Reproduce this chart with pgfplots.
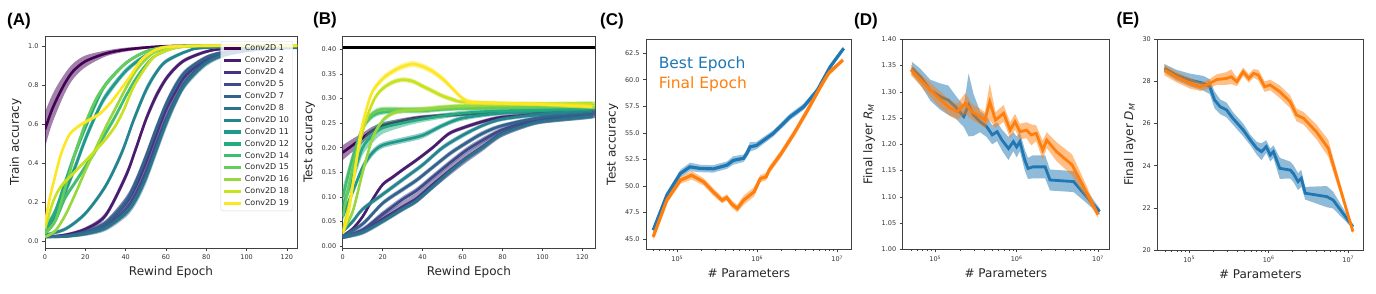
\documentclass[border=0pt]{standalone}
\usepackage{fontspec}
\setmainfont{DejaVu Sans}
\newfontfamily\panelfont{Liberation Sans}
\usepackage{pgfplots}
\pgfplotsset{compat=1.18}
\usepackage{pgfplotstable}

\definecolor{v1}{HTML}{440154}
\definecolor{v2}{HTML}{481C6E}
\definecolor{v4}{HTML}{46327E}
\definecolor{v5}{HTML}{3E4A89}
\definecolor{v7}{HTML}{33628D}
\definecolor{v8}{HTML}{2C738E}
\definecolor{v10}{HTML}{25858E}
\definecolor{v11}{HTML}{1F998A}
\definecolor{v12}{HTML}{25AB82}
\definecolor{v14}{HTML}{40BD72}
\definecolor{v15}{HTML}{67CC5C}
\definecolor{v16}{HTML}{98D83E}
\definecolor{v18}{HTML}{CAE11F}
\definecolor{v19}{HTML}{FDE725}
\definecolor{cblue}{HTML}{1F77B4}
\definecolor{corange}{HTML}{FF7F0E}

% ---------------- Panel A: train accuracy ----------------
\pgfplotstableread{
x y e
0 0.57 0.09
3 0.66 0.075
6 0.73 0.065
10 0.81 0.05
14 0.87 0.04
20 0.92 0.03
30 0.96 0.015
40 0.98 0.01
55 0.995 0.005
70 1.0 0.003
90 1.0 0.002
125 1.0 0.002
}\tAa
\pgfplotstableread{
x y e
0 0.02 0.005
10 0.03 0.008
20 0.06 0.01
30 0.13 0.015
40 0.33 0.02
45 0.47 0.02
50 0.62 0.02
55 0.74 0.02
60 0.83 0.015
65 0.89 0.012
70 0.93 0.01
80 0.97 0.008
90 0.985 0.005
125 1.0 0.003
}\tAb
\pgfplotstableread{
x y e
0 0.02 0.005
10 0.025 0.008
20 0.045 0.012
30 0.085 0.02
40 0.19 0.035
45 0.28 0.04
50 0.40 0.045
55 0.54 0.045
60 0.67 0.04
65 0.77 0.035
70 0.85 0.03
80 0.93 0.02
90 0.965 0.012
105 0.985 0.006
125 0.995 0.004
}\tAc
\pgfplotstableread{
x y e
0 0.02 0.005
10 0.023 0.008
20 0.04 0.012
30 0.075 0.02
40 0.16 0.03
45 0.24 0.035
50 0.35 0.035
55 0.49 0.035
60 0.62 0.03
65 0.73 0.03
70 0.82 0.025
80 0.92 0.015
90 0.96 0.01
105 0.985 0.006
125 0.995 0.004
}\tAd
\pgfplotstableread{
x y e
0 0.02 0.005
10 0.025 0.006
20 0.045 0.01
30 0.09 0.015
40 0.20 0.02
45 0.30 0.025
50 0.43 0.025
55 0.57 0.025
60 0.70 0.02
65 0.80 0.02
70 0.87 0.015
80 0.94 0.01
90 0.97 0.008
105 0.99 0.005
125 1.0 0.003
}\tAe
\pgfplotstableread{
x y e
0 0.02 0.005
10 0.022 0.006
20 0.035 0.01
30 0.065 0.015
40 0.14 0.02
45 0.21 0.025
50 0.32 0.03
55 0.46 0.03
60 0.60 0.03
65 0.72 0.025
70 0.81 0.02
80 0.91 0.015
90 0.955 0.01
105 0.98 0.006
125 0.99 0.004
}\tAf
\pgfplotstableread{
x y e
0 0.03 0.008
10 0.06 0.01
20 0.14 0.012
30 0.28 0.015
38 0.45 0.02
44 0.62 0.02
50 0.77 0.02
55 0.86 0.015
60 0.92 0.012
70 0.97 0.008
80 0.99 0.005
125 1.0 0.003
}\tAg
\pgfplotstableread{
x y e
0 0.05 0.02
5 0.12 0.02
10 0.25 0.025
15 0.38 0.025
20 0.52 0.025
25 0.64 0.02
30 0.74 0.02
40 0.87 0.015
50 0.95 0.01
60 0.985 0.005
75 1.0 0.003
125 1.0 0.002
}\tAh
\pgfplotstableread{
x y e
0 0.06 0.02
5 0.15 0.02
10 0.30 0.025
15 0.45 0.025
20 0.58 0.02
25 0.70 0.02
30 0.80 0.015
40 0.91 0.01
50 0.97 0.006
60 0.99 0.004
75 1.0 0.003
125 1.0 0.002
}\tAi
\pgfplotstableread{
x y e
0 0.04 0.01
5 0.10 0.012
10 0.22 0.015
15 0.30 0.015
20 0.38 0.015
25 0.46 0.015
30 0.55 0.015
35 0.64 0.015
40 0.74 0.012
45 0.83 0.01
50 0.90 0.008
55 0.95 0.006
65 0.99 0.004
80 1.0 0.003
125 1.0 0.002
}\tAj
\pgfplotstableread{
x y e
0 0.04 0.01
5 0.10 0.015
10 0.27 0.02
15 0.45 0.02
20 0.60 0.018
25 0.72 0.015
30 0.80 0.012
40 0.91 0.008
50 0.97 0.005
60 0.995 0.003
75 1.0 0.002
125 1.0 0.002
}\tAk
\pgfplotstableread{
x y e
0 0.02 0.005
5 0.05 0.008
10 0.13 0.01
15 0.24 0.012
20 0.36 0.012
25 0.47 0.012
30 0.58 0.012
35 0.68 0.01
40 0.78 0.01
45 0.87 0.008
50 0.93 0.006
55 0.97 0.004
65 0.995 0.003
80 1.0 0.002
125 1.0 0.002
}\tAl
\pgfplotstableread{
x y e
0 0.06 0.01
4 0.20 0.012
8 0.28 0.012
14 0.345 0.01
22 0.43 0.01
30 0.52 0.01
35 0.59 0.01
39 0.67 0.01
44 0.79 0.008
50 0.89 0.006
55 0.95 0.005
65 0.99 0.003
80 1.0 0.002
125 1.0 0.002
}\tAm
\pgfplotstableread{
x y e
0 0.09 0.02
2.5 0.225 0.02
5 0.33 0.018
7.5 0.43 0.015
10 0.50 0.012
12.5 0.55 0.01
17 0.59 0.01
22 0.62 0.01
27 0.65 0.01
31 0.69 0.01
35 0.74 0.01
42 0.84 0.008
48 0.93 0.006
55 0.98 0.004
62 0.995 0.003
80 1.0 0.002
125 1.0 0.002
}\tAn

% ---------------- Panel B: test accuracy ----------------
\pgfplotstableread{
x y e
0 0.19 0.015
5 0.205 0.013
10 0.22 0.01
15 0.235 0.008
20 0.245 0.006
30 0.255 0.005
40 0.262 0.004
60 0.268 0.004
80 0.272 0.004
125 0.275 0.004
}\tBa
\pgfplotstableread{
x y e
0 0.02 0.004
5 0.035 0.004
10 0.06 0.004
15 0.095 0.004
20 0.125 0.004
25 0.14 0.004
30 0.155 0.004
37 0.175 0.004
45 0.2 0.004
53 0.228 0.004
60 0.24 0.004
70 0.253 0.004
80 0.262 0.004
100 0.268 0.004
125 0.272 0.004
}\tBb
\pgfplotstableread{
x y e
0 0.018 0.004
10 0.03 0.006
20 0.055 0.008
30 0.08 0.009
37 0.097 0.01
45 0.125 0.01
54 0.155 0.01
62 0.18 0.01
70 0.202 0.009
79 0.228 0.008
90 0.245 0.007
100 0.255 0.006
125 0.265 0.005
}\tBc
\pgfplotstableread{
x y e
0 0.018 0.004
10 0.033 0.005
20 0.065 0.006
30 0.095 0.006
37 0.113 0.006
45 0.14 0.006
54 0.17 0.006
62 0.195 0.006
70 0.215 0.006
79 0.235 0.005
90 0.25 0.005
100 0.258 0.005
125 0.268 0.004
}\tBd
\pgfplotstableread{
x y e
0 0.02 0.004
10 0.045 0.005
20 0.087 0.005
30 0.115 0.005
37 0.134 0.005
45 0.16 0.005
54 0.189 0.005
62 0.21 0.005
70 0.229 0.005
80 0.245 0.004
100 0.262 0.004
125 0.27 0.004
}\tBe
\pgfplotstableread{
x y e
0 0.018 0.004
10 0.028 0.005
20 0.05 0.005
30 0.075 0.005
37 0.092 0.005
45 0.12 0.005
54 0.152 0.005
62 0.178 0.005
70 0.2 0.005
79 0.226 0.005
90 0.243 0.004
100 0.253 0.004
125 0.263 0.004
}\tBf
\pgfplotstableread{
x y e
0 0.03 0.005
5 0.05 0.005
10 0.075 0.005
20 0.105 0.005
30 0.135 0.005
40 0.165 0.005
50 0.2 0.005
60 0.225 0.005
70 0.245 0.004
80 0.258 0.004
100 0.268 0.004
125 0.275 0.004
}\tBg
\pgfplotstableread{
x y e
0 0.06 0.008
5 0.11 0.008
10 0.16 0.008
15 0.19 0.007
20 0.205 0.006
30 0.215 0.006
40 0.225 0.006
50 0.245 0.005
60 0.26 0.005
80 0.27 0.004
125 0.28 0.004
}\tBh
\pgfplotstableread{
x y e
0 0.08 0.01
5 0.14 0.015
10 0.2 0.015
15 0.225 0.015
20 0.24 0.012
30 0.25 0.008
40 0.258 0.006
60 0.27 0.005
80 0.275 0.004
125 0.28 0.004
}\tBi
\pgfplotstableread{
x y e
0 0.1 0.02
5 0.18 0.012
10 0.24 0.008
15 0.265 0.006
20 0.272 0.005
30 0.275 0.005
40 0.275 0.005
60 0.28 0.004
125 0.285 0.004
}\tBj
\pgfplotstableread{
x y e
0 0.06 0.01
5 0.16 0.008
10 0.24 0.006
15 0.27 0.005
20 0.278 0.005
30 0.278 0.005
40 0.278 0.005
60 0.28 0.004
125 0.285 0.004
}\tBk
\pgfplotstableread{
x y e
0 0.03 0.005
5 0.07 0.006
10 0.15 0.006
15 0.22 0.006
20 0.255 0.005
25 0.27 0.005
30 0.275 0.005
40 0.278 0.005
60 0.285 0.004
125 0.29 0.004
}\tBl
\pgfplotstableread{
x y e
0 0.03 0.004
4 0.1 0.005
8 0.2 0.005
12 0.26 0.005
16 0.3 0.005
20 0.32 0.005
25 0.333 0.005
30 0.338 0.005
35 0.335 0.005
40 0.325 0.005
45 0.315 0.005
50 0.305 0.005
55 0.298 0.005
60 0.293 0.004
80 0.29 0.004
125 0.288 0.004
}\tBm
\pgfplotstableread{
x y e
0 0.025 0.004
3 0.07 0.005
6 0.15 0.006
9 0.23 0.006
12 0.28 0.006
15 0.315 0.006
20 0.34 0.006
25 0.355 0.006
30 0.365 0.006
35 0.37 0.006
40 0.365 0.006
45 0.355 0.006
50 0.34 0.006
55 0.32 0.005
60 0.3 0.005
65 0.292 0.005
80 0.29 0.004
100 0.288 0.004
125 0.283 0.004
}\tBn

% ---------------- Panel C ----------------
\pgfplotstableread{
x y e
4.70 45.83 0.25
4.87 49.12 0.3
5.04 51.17 0.35
5.16 51.79 0.4
5.29 51.64 0.35
5.45 51.60 0.35
5.62 51.95 0.35
5.70 52.40 0.4
5.83 52.60 0.35
5.87 53.06 0.35
5.91 53.68 0.45
5.99 53.80 0.35
6.20 54.94 0.3
6.41 56.50 0.3
6.58 57.45 0.3
6.75 59.00 0.25
6.91 61.20 0.25
7.08 62.95 0.15
}\tCb
\pgfplotstableread{
x y e
4.70 45.20 0.25
4.87 48.65 0.3
5.04 50.54 0.35
5.18 51.00 0.4
5.33 50.38 0.35
5.45 49.44 0.35
5.56 48.65 0.3
5.62 48.90 0.3
5.68 48.30 0.35
5.75 47.87 0.35
5.83 48.65 0.45
5.96 49.44 0.45
6.04 50.70 0.35
6.11 50.85 0.35
6.15 51.50 0.35
6.30 53.06 0.35
6.46 54.94 0.35
6.63 57.14 0.35
6.79 59.33 0.3
6.89 60.60 0.3
7.07 61.85 0.15
}\tCo

% ---------------- Panel D ----------------
\pgfplotstableread{
x y e
4.714 1.345 0.012
4.816 1.329 0.015
4.94 1.303 0.02
5.06 1.291 0.025
5.16 1.284 0.028
5.245 1.272 0.022
5.35 1.253 0.02
5.41 1.275 0.06
5.47 1.256 0.04
5.55 1.243 0.02
5.63 1.234 0.02
5.70 1.218 0.018
5.76 1.224 0.018
5.82 1.208 0.02
5.90 1.192 0.022
5.96 1.205 0.018
6.00 1.195 0.02
6.04 1.205 0.018
6.10 1.170 0.02
6.14 1.154 0.02
6.20 1.157 0.022
6.35 1.157 0.022
6.41 1.132 0.02
6.70 1.129 0.02
6.86 1.100 0.012
7.02 1.072 0.006
}\tDb
\pgfplotstableread{
x y e
4.70 1.342 0.01
4.86 1.316 0.012
5.02 1.291 0.015
5.18 1.269 0.015
5.27 1.262 0.015
5.37 1.278 0.02
5.45 1.262 0.015
5.55 1.253 0.015
5.61 1.246 0.015
5.67 1.281 0.035
5.74 1.246 0.015
5.84 1.259 0.016
5.92 1.227 0.015
5.98 1.243 0.015
6.04 1.224 0.015
6.12 1.227 0.015
6.18 1.218 0.02
6.24 1.221 0.015
6.32 1.189 0.018
6.37 1.208 0.015
6.49 1.186 0.018
6.68 1.161 0.02
6.80 1.126 0.015
7.00 1.066 0.006
}\tDo

% ---------------- Panel E ----------------
\pgfplotstableread{
x y e
4.69 28.61 0.2
4.84 28.29 0.25
5.01 28.06 0.3
5.18 27.90 0.35
5.26 27.74 0.35
5.32 27.11 0.4
5.39 26.79 0.35
5.47 26.64 0.35
5.55 26.24 0.3
5.68 25.69 0.3
5.77 25.21 0.25
5.85 24.82 0.3
5.91 24.66 0.4
5.97 24.90 0.3
6.02 24.50 0.3
6.06 24.66 0.3
6.14 23.87 0.5
6.27 23.79 0.4
6.31 23.63 0.4
6.37 23.24 0.4
6.41 23.40 0.4
6.46 22.69 0.3
6.73 22.53 0.5
6.81 22.37 0.4
7.06 21.10 0.1
}\tEb
\pgfplotstableread{
x y e
4.69 28.53 0.25
4.84 28.20 0.25
5.01 27.90 0.25
5.14 27.74 0.2
5.22 27.82 0.2
5.35 28.08 0.25
5.47 28.13 0.3
5.53 28.21 0.35
5.60 27.97 0.2
5.68 28.45 0.2
5.75 28.13 0.2
5.81 28.37 0.2
5.87 28.29 0.25
5.95 27.74 0.25
6.02 27.82 0.25
6.14 27.50 0.3
6.27 27.03 0.3
6.35 26.40 0.3
6.44 26.24 0.3
6.60 25.60 0.35
6.75 24.82 0.4
7.06 20.87 0.1
}\tEo

% band (upper edge forward, lower edge backward) + line
% #1 table, #2 colour, #3 unused, #4 line width, #5 extra options, #6 opacity
\newcommand{\bl}[6]{%
\pgfplotstablesort[sort key=x, sort cmp=float <]\bandU{#1}%
\pgfplotstablesort[sort key=x, sort cmp=float >]\bandL{#1}%
\pgfplotstablecreatecol[expr={\thisrow{y}+\thisrow{e}}]{b}\bandU%
\pgfplotstablecreatecol[expr={\thisrow{y}-\thisrow{e}}]{b}\bandL%
\pgfplotstablevertcat{\bandU}{\bandL}%
\addplot[fill=#2, fill opacity=#6, draw=none, forget plot, #5] table[x=x, y=b] {\bandU};
\addplot[color=#2, line width=#4, #5] table[x=x, y=y] {#1};
}

\pgfplotsset{
  panel/.style={
    scale only axis, anchor=south west,
    axis line style={black!75, line width=0.6pt},
    tick align=outside, tick pos=left,
    tick style={black!75, line width=0.5pt},
    major tick length=3pt, minor tick length=1.8pt,
    ticklabel style={font=\fontsize{6.5}{7}\selectfont, text=black!80},
    label style={font=\fontsize{12}{14}\selectfont, text=black!85},
    /pgf/number format/assume math mode=true,
  },
  logx/.style={
    xtick={5,6,7},
    xticklabels={10\textsuperscript{5},10\textsuperscript{6},10\textsuperscript{7}},
    minor xtick={4.699,4.778,4.845,4.903,4.954,5.301,5.477,5.602,5.699,5.778,5.845,5.903,5.954,6.301,6.477,6.602,6.699,6.778,6.845,6.903,6.954},
    xlabel={\# Parameters},
  },
}

\begin{document}
\begin{tikzpicture}
\path[use as bounding box] (0pt,0pt) rectangle (1376pt,293pt);

% ===== A =====
\begin{axis}[panel, at={(45pt,45pt)}, width=252pt, height=212pt,
  xmin=0, xmax=125, ymin=-0.037, ymax=1.05,
  xtick={0,20,40,60,80,100,120}, ytick={0,0.2,0.4,0.6,0.8,1.0},
  yticklabel style={/pgf/number format/.cd, fixed, fixed zerofill, precision=1},
  xlabel={Rewind Epoch}, ylabel={Train accuracy},
  legend style={at={(0.984,0.976)}, anchor=north east, font=\fontsize{8}{8}\selectfont,
    draw=black!15, fill=white, fill opacity=0.8, text opacity=1, rounded corners=2pt,
    inner sep=1.5pt, row sep=0pt, nodes={inner sep=2.2pt, text height=6pt, text depth=1.5pt, text=black!85}},
  legend cell align=left,
  legend image code/.code={\draw[#1, line width=3.2pt] (0pt,0pt) -- (17pt,0pt);},
]
\bl{\tAa}{v1}{a1}{2.6pt}{smooth}{0.5}
\bl{\tAb}{v2}{a2}{2.6pt}{smooth}{0.5}
\bl{\tAc}{v4}{a4}{2.6pt}{smooth}{0.5}
\bl{\tAd}{v5}{a5}{2.6pt}{smooth}{0.5}
\bl{\tAe}{v7}{a7}{2.6pt}{smooth}{0.5}
\bl{\tAf}{v8}{a8}{2.6pt}{smooth}{0.5}
\bl{\tAg}{v10}{aa}{2.6pt}{smooth}{0.5}
\bl{\tAh}{v11}{ab}{2.6pt}{smooth}{0.5}
\bl{\tAi}{v12}{ac}{2.6pt}{smooth}{0.5}
\bl{\tAj}{v14}{ad}{2.6pt}{smooth}{0.5}
\bl{\tAk}{v15}{ae}{2.6pt}{smooth}{0.5}
\bl{\tAl}{v16}{af}{2.6pt}{smooth}{0.5}
\bl{\tAm}{v18}{ag}{2.6pt}{smooth}{0.5}
\bl{\tAn}{v19}{ah}{2.6pt}{smooth}{0.5}
\legend{Conv2D 1,Conv2D 2,Conv2D 4,Conv2D 5,Conv2D 7,Conv2D 8,Conv2D 10,Conv2D 11,Conv2D 12,Conv2D 14,Conv2D 15,Conv2D 16,Conv2D 18,Conv2D 19}
\end{axis}

% ===== B =====
\begin{axis}[panel, at={(342.7pt,45pt)}, width=252.3pt, height=212pt,
  xmin=0, xmax=126.3, ymin=-0.004, ymax=0.427,
  xtick={0,20,40,60,80,100,120}, ytick={0,0.05,0.1,0.15,0.2,0.25,0.3,0.35,0.4},
  yticklabel style={/pgf/number format/.cd, fixed, fixed zerofill, precision=2},
  xlabel={Rewind Epoch}, ylabel={Test accuracy},
]
\addplot[black, line width=2.6pt, forget plot] coordinates {(0,0.404) (126.3,0.404)};
\bl{\tBa}{v1}{b1}{2.6pt}{smooth}{0.5}
\bl{\tBb}{v2}{b2}{2.6pt}{smooth}{0.5}
\bl{\tBc}{v4}{b4}{2.6pt}{smooth}{0.5}
\bl{\tBd}{v5}{b5}{2.6pt}{smooth}{0.5}
\bl{\tBe}{v7}{b7}{2.6pt}{smooth}{0.5}
\bl{\tBf}{v8}{b8}{2.6pt}{smooth}{0.5}
\bl{\tBg}{v10}{ba}{2.6pt}{smooth}{0.5}
\bl{\tBh}{v11}{bb}{2.6pt}{smooth}{0.5}
\bl{\tBi}{v12}{bc}{2.6pt}{smooth}{0.5}
\bl{\tBj}{v14}{bd}{2.6pt}{smooth}{0.5}
\bl{\tBk}{v15}{be}{2.6pt}{smooth}{0.5}
\bl{\tBl}{v16}{bf}{2.6pt}{smooth}{0.5}
\bl{\tBm}{v18}{bg}{2.6pt}{smooth}{0.5}
\bl{\tBn}{v19}{bh}{2.6pt}{smooth}{0.5}
\end{axis}

% ===== C =====
\begin{axis}[panel, logx, at={(646pt,43.7pt)}, width=205.7pt, height=210pt,
  xmin=4.61, xmax=7.18, ymin=44.03, ymax=63.8,
  ytick={45,47.5,50,52.5,55,57.5,60,62.5},
  yticklabel style={/pgf/number format/.cd, fixed, fixed zerofill, precision=1},
  ylabel={Test accuracy},
]
\bl{\tCb}{cblue}{cb}{3.2pt}{}{0.45}
\bl{\tCo}{corange}{co}{3.2pt}{}{0.45}
\node[anchor=west, text=cblue, font=\fontsize{15.5}{18}\selectfont] at (rel axis cs:0.045,0.88) {Best Epoch};
\node[anchor=west, text=corange, font=\fontsize{15.5}{18}\selectfont] at (rel axis cs:0.045,0.785) {Final Epoch};
\end{axis}

% ===== D =====
\begin{axis}[panel, logx, at={(902.7pt,43.7pt)}, width=206.3pt, height=210pt,
  xmin=4.60, xmax=7.135, ymin=1.0, ymax=1.4,
  ytick={1.0,1.05,1.1,1.15,1.2,1.25,1.3,1.35,1.4},
  yticklabel style={/pgf/number format/.cd, fixed, fixed zerofill, precision=2},
  ylabel={Final layer {\itshape R}\textsubscript{\itshape M}},
]
\bl{\tDb}{cblue}{db}{2.8pt}{}{0.5}
\bl{\tDo}{corange}{dd}{2.8pt}{}{0.5}
\end{axis}

% ===== E =====
\begin{axis}[panel, logx, at={(1157.3pt,43pt)}, width=206pt, height=211pt,
  xmin=4.60, xmax=7.19, ymin=20, ymax=30,
  ytick={20,22,24,26,28,30},
  ylabel={Final layer {\itshape D}\textsubscript{\itshape M}},
]
\bl{\tEb}{cblue}{eb}{2.8pt}{}{0.5}
\bl{\tEo}{corange}{eo}{2.8pt}{}{0.5}
\end{axis}

% panel letters
\node[font=\panelfont\fontsize{17}{19}\selectfont\bfseries] at (19pt,271.5pt) {(A)};
\node[font=\panelfont\fontsize{17}{19}\selectfont\bfseries] at (325pt,273pt) {(B)};
\node[font=\panelfont\fontsize{17}{19}\selectfont\bfseries] at (612pt,271.5pt) {(C)};
\node[font=\panelfont\fontsize{17}{19}\selectfont\bfseries] at (866pt,272pt) {(D)};
\node[font=\panelfont\fontsize{17}{19}\selectfont\bfseries] at (1128pt,273pt) {(E)};
\end{tikzpicture}
\end{document}
